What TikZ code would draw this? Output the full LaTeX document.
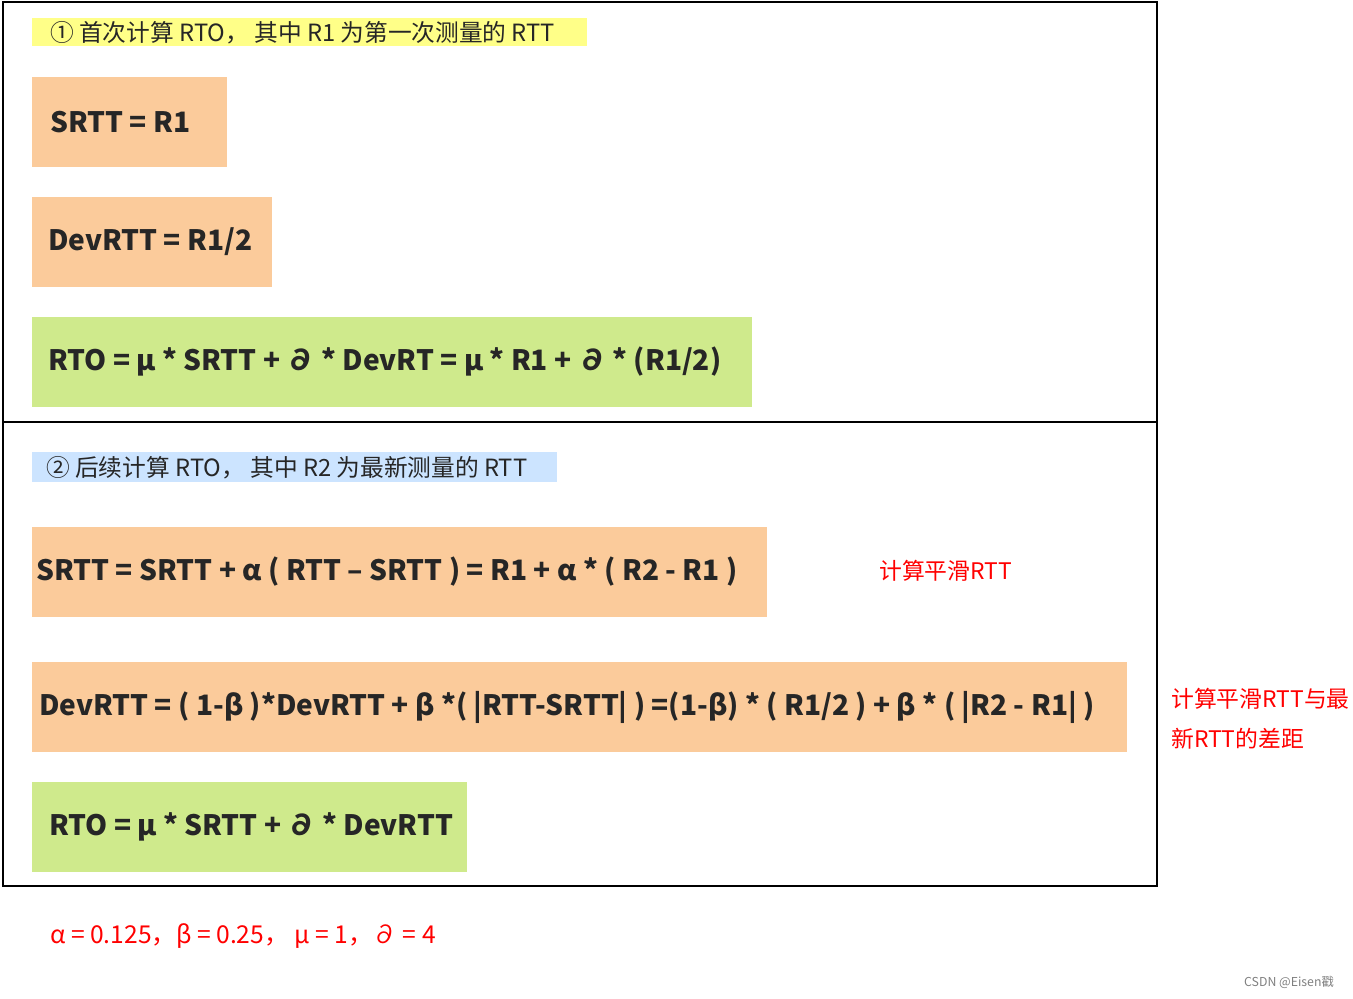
\documentclass[tikz,border=0pt]{standalone}
\usepackage{fontspec}
\setmainfont{Noto Sans CJK SC}
\definecolor{orf}{HTML}{FBCB9B}
\definecolor{grf}{HTML}{CFEA8C}
\definecolor{yef}{HTML}{FFFF88}
\definecolor{blf}{HTML}{CCE4FF}
\begin{document}
\begin{tikzpicture}[x=0.02cm,y=-0.02cm,
  frame/.style={draw=black,line width=1.2pt},
  orbox/.style={fill=orf,draw=none},
  grbox/.style={fill=grf,draw=none},
  big/.style={anchor=west,font=\fontsize{16}{18}\selectfont\bfseries,text=black!85},
  hl/.style={anchor=west,font=\fontsize{13.5}{15}\selectfont,text=black!85},
  note/.style={anchor=west,font=\fontsize{13}{15}\selectfont,text=red}]
\useasboundingbox (0,0) rectangle (1353,998);
\draw[frame] (3,2) rectangle (1157,422);
\draw[frame] (3,422) rectangle (1157,886);
\fill[yef] (32,18) rectangle (587,46);
\node[hl] (t1) at (44,33) {① 首次计算 RTO， 其中 R1 为第一次测量的 RTT};
\fill[orbox] (32,77) rectangle (227,167);
\node[big] (a1) at (44,122) {SRTT = R1};
\fill[orbox] (32,197) rectangle (272,287);
\node[big] (a2) at (42,242) {DevRTT = R1/2};
\fill[grbox] (32,317) rectangle (752,407);
\node[big] (a3) at (42,362) {RTO = μ * SRTT + ∂ * DevRT = μ * R1 +  ∂ * (R1/2)};
\fill[blf] (32,452) rectangle (557,482);
\node[hl] (t2) at (40,468) {② 后续计算 RTO， 其中 R2 为最新测量的 RTT};
\fill[orbox] (32,527) rectangle (767,617);
\node[big] (b1) at (30,572) {SRTT = SRTT + α ( RTT – SRTT ) = R1 + α * ( R2 - R1 )};
\node[note] (n1) at (873,571) {计算平滑RTT};
\fill[orbox] (32,662) rectangle (1127,752);
\node[big] (b2) at (33,707) {DevRTT = ( 1-β )*DevRTT + β *( |RTT-SRTT| ) =(1-β) * ( R1/2 ) + β * ( |R2 - R1| )};
\node[note] (n2) at (1165,699) {计算平滑RTT与最};
\node[note] (n3) at (1165,739) {新RTT的差距};
\fill[grbox] (32,782) rectangle (467,872);
\node[big] (b3) at (43,827) {RTO = μ * SRTT + ∂ * DevRTT};
\node[note,font=\fontsize{14}{16}\selectfont] (n4) at (44,936) {α = 0.125，β = 0.25，  μ = 1，∂ = 4};
\node[anchor=east,font=\fontsize{7}{8}\selectfont,text=gray] (w) at (1340,982) {CSDN @Eisen戳};
\end{tikzpicture}
\end{document}
